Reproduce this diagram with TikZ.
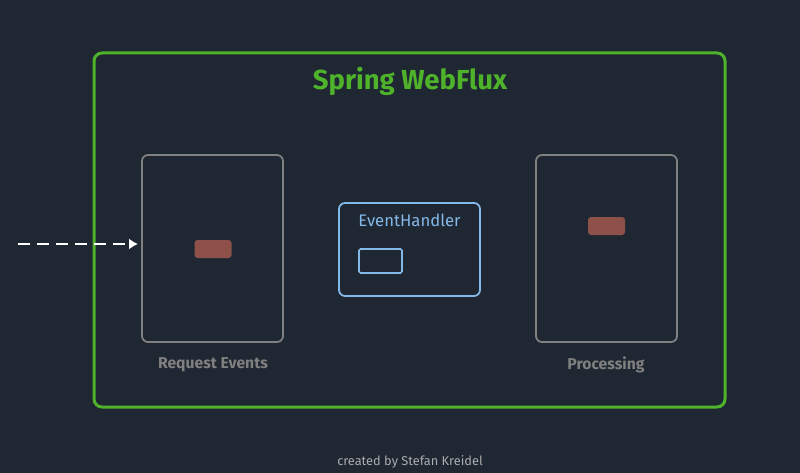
\documentclass[tikz,border=0pt]{standalone}
\usepackage{fontspec}
\setmainfont{Fira Sans}
\usetikzlibrary{arrows.meta}
\definecolor{bgcol}{HTML}{1E2732}
\definecolor{springgreen}{HTML}{4FB22B}
\definecolor{boxgray}{HTML}{808080}
\definecolor{evred}{HTML}{8E5149}
\definecolor{handlerblue}{HTML}{84B8E8}
\begin{document}
\begin{tikzpicture}[x=1pt,y=-1pt,
  stage/.style={draw=boxgray,line width=1.8pt,rounded corners=6pt,inner sep=0pt,minimum width=141pt,minimum height=187pt},
  event/.style={fill=evred,rounded corners=3pt,inner sep=0pt,minimum width=37pt,minimum height=18pt},
  stagelabel/.style={text=boxgray,font=\fontsize{15.7}{18}\selectfont\bfseries}]
\path[use as bounding box,fill=bgcol] (0,0) rectangle (800,473);

\node[draw=springgreen,line width=3pt,rounded corners=8pt,inner sep=0pt,minimum width=631pt,minimum height=354pt] (flux) at (409.5,230) {};
\node[text=springgreen,font=\fontsize{27.5}{30}\selectfont\bfseries] (title) at (410,81) {Spring WebFlux};

\node[stage] (reqbox) at (212.5,248.5) {};
\node[event] (ev1) at (213,249) {};
\node[stagelabel] (reqlabel) at (213,365) {Request Events};

\node[stage] (procbox) at (606.5,248.5) {};
\node[event] (ev2) at (606.5,226) {};
\node[stagelabel] (proclabel) at (606,365) {Processing};

\node[draw=handlerblue,line width=1.8pt,rounded corners=6pt,inner sep=0pt,minimum width=141pt,minimum height=93pt] (handler) at (409.5,249.5) {};
\node[text=handlerblue,font=\fontsize{16.7}{19}\selectfont] (handlerlabel) at (409.5,220) {EventHandler};
\node[draw=handlerblue,line width=1.6pt,rounded corners=1.5pt,inner sep=0pt,minimum width=43pt,minimum height=24pt] (slot) at (380.5,261) {};

\coordinate (src) at (18,244);
\draw[white,line width=1.8pt,dash pattern=on 12pt off 7pt,-{Latex[length=9pt,width=11pt]},shorten >=3pt] (src) -- (src -| reqbox.west);

\node[text=gray!65,font=\fontsize{12.8}{15}\selectfont] (credit) at (410,462) {created by Stefan Kreidel};
\end{tikzpicture}
\end{document}
